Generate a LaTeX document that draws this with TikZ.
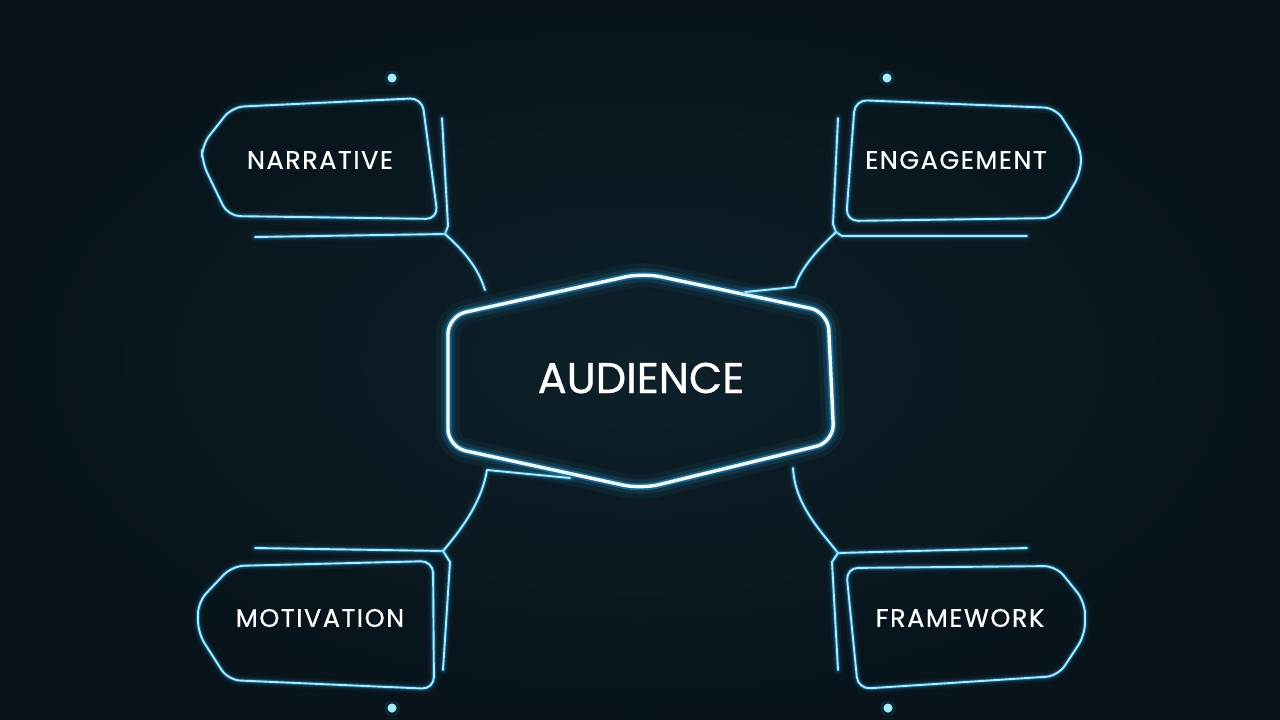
\documentclass[tikz,border=0pt]{standalone}
\usepackage{fontspec}
\setmainfont{Poppins}
\newfontfamily\smallfont{Poppins}[FakeBold=0.6, LetterSpace=6]
\newfontfamily\bigfont{Poppins}[FakeBold=0.8]
\definecolor{bgin}{HTML}{0E2029}
\definecolor{bgout}{HTML}{08131A}
\definecolor{linec}{HTML}{A6ECFF}
\definecolor{glowc}{HTML}{2A9EDB}
\definecolor{hexc}{HTML}{EEFDFF}
\tikzset{
  neon/.style={draw=linec, line width=1.9pt,
    preaction={draw=glowc, line width=11pt, draw opacity=0.06},
    preaction={draw=glowc, line width=6.5pt, draw opacity=0.12},
    preaction={draw=glowc, line width=3.8pt, draw opacity=0.35}},
  hexneon/.style={draw=hexc, line width=3.4pt,
    preaction={draw=glowc, line width=24pt, draw opacity=0.07},
    preaction={draw=glowc, line width=14pt, draw opacity=0.14},
    preaction={draw=glowc, line width=7pt, draw opacity=0.45}},
  boxtext/.style={text=white, font=\smallfont\fontsize{25.5}{25.5}\selectfont},
  maintext/.style={text=white, font=\bigfont\fontsize{43}{43}\selectfont},
  glowdot/.style={fill=linec, circle, inner sep=0pt, minimum size=9pt,
    preaction={fill=glowc, fill opacity=0.25, circle, draw=glowc, line width=7pt, draw opacity=0.15}}
}
\begin{document}
\begin{tikzpicture}[x=1pt,y=-1pt, line cap=round, line join=round]
\useasboundingbox (0,0) rectangle (1280,720);
\shade[inner color=bgin, outer color=bgout] (0,0) rectangle (1280,720);

% central hexagon
\draw[hexneon, rounded corners=18pt] (643,273) -- (828,312) -- (834,442) -- (641,489) -- (448,447) -- (448,316) -- cycle;
\node[maintext] (aud) at (641,378) {AUDIENCE};

% NARRATIVE
\draw[neon, rounded corners=12pt] (232,107) -- (422,98) -- (438,219) -- (228,216) -- (202,162) -- (202,145) -- cycle;
\node[boxtext] (narr) at (320,160) {NARRATIVE};
\coordinate (jN) at (445,234);
\coordinate (vNt) at (442,118);
\coordinate (hNl) at (255,237);
\coordinate (hN) at (485,290);
\draw[neon] (vNt) -- (448,226) -- (jN) -- (hNl);
\draw[neon] (jN) .. controls (465,252) and (478,268) .. (hN);
\node[glowdot] (dN) at (392,78) {};

% ENGAGEMENT
\draw[neon, rounded corners=12pt] (855,100) -- (1056,108) -- (1081,148) -- (1081,172) -- (1055,218) -- (846,221) -- cycle;
\node[boxtext] (eng) at (956,160) {ENGAGEMENT};
\coordinate (jE) at (836,232);
\coordinate (vEt) at (838,118);
\coordinate (hEr) at (1027,236);
\coordinate (hE) at (795,287);
\coordinate (hEl) at (745,292);
\draw[neon] (vEt) -- (833,224) -- (jE) -- (842,236) -- (hEr);
\draw[neon] (jE) .. controls (815,252) and (800,270) .. (hE) -- (hEl);
\node[glowdot] (dE) at (887,78) {};

% MOTIVATION
\draw[neon, rounded corners=12pt] (232,566) -- (433,561) -- (434,689) -- (228,680) -- (198,633) -- (198,602) -- cycle;
\node[boxtext] (mot) at (320,618) {MOTIVATION};
\coordinate (jM) at (443,551);
\coordinate (hMl) at (255,548);
\coordinate (vMb) at (443,670);
\coordinate (hM) at (487,470);
\coordinate (hMr) at (570,478);
\draw[neon] (hMl) -- (jM) -- (450,562) -- (vMb);
\draw[neon] (jM) .. controls (465,525) and (482,500) .. (hM) -- (hMr);
\node[glowdot] (dM) at (392,708) {};

% FRAMEWORK
\draw[neon, rounded corners=12pt] (846,568) -- (1056,566) -- (1085,602) -- (1085,635) -- (1058,676) -- (858,689) -- cycle;
\node[boxtext] (frm) at (960,618) {FRAMEWORK};
\coordinate (jF) at (838,553);
\coordinate (hF) at (793,468);
\coordinate (hFr) at (1027,548);
\coordinate (vFb) at (838,670);
\draw[neon] (hF) .. controls (795,505) and (820,530) .. (jF) -- (hFr);
\draw[neon] (jF) -- (832,562) -- (vFb);
\node[glowdot] (dF) at (888,708) {};
\end{tikzpicture}
\end{document}
